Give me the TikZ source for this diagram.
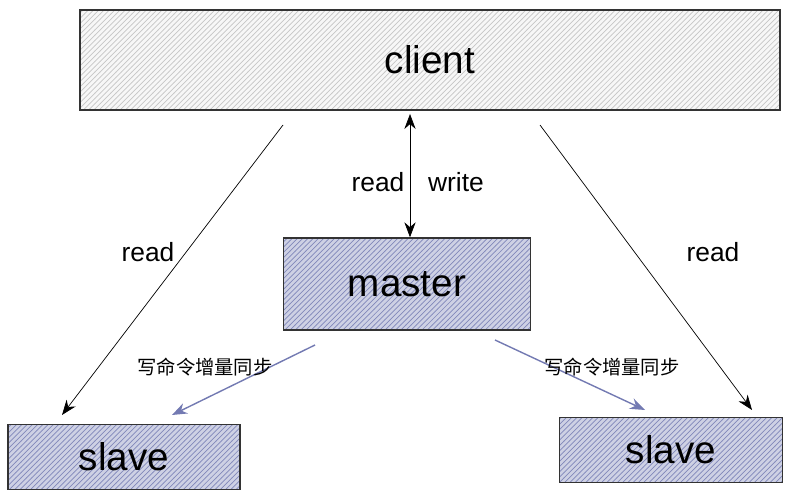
\documentclass[tikz,border=0pt]{standalone}
\usepackage{fontspec}
\setmainfont{Liberation Sans}
\newfontfamily\cjk{Noto Sans CJK SC}
\usetikzlibrary{arrows.meta,patterns,positioning}
\definecolor{hatchblue}{rgb}{0.45,0.48,0.70}
\tikzset{
  light box/.style={draw=black!80, thick, preaction={fill=gray!6},
    pattern=north east lines, pattern color=gray!45, font=\fontsize{22}{24}\selectfont},
  dark box/.style={draw=black!80, thick, preaction={fill=hatchblue!35},
    pattern=north east lines, pattern color=hatchblue!90, font=\fontsize{22}{24}\selectfont},
  flow/.style={-{Stealth[length=3mm]}, thin},
  sync/.style={-{Stealth[length=3mm]}, draw=hatchblue, thick},
  lab/.style={font=\fontsize{15}{17}\selectfont},
  cjklab/.style={font=\cjk\fontsize{11}{13}\selectfont}
}
\begin{document}
\begin{tikzpicture}[x=0.02cm,y=-0.02cm]
\useasboundingbox (0,0) rectangle (794,499);

\node (client) at (430,60) [light box, minimum width=14cm, minimum height=2cm]{client};
\node (master) at (407,284) [dark box, minimum width=4.94cm, minimum height=1.84cm]{master};
\node (slaveL) at (124,457) [dark box, minimum width=4.64cm, minimum height=1.3cm]{slave};
\node (slaveR) at (671,450) [dark box, minimum width=4.46cm, minimum height=1.3cm]{slave};

\coordinate (cL) at (283,125);
\coordinate (cR) at (540,125);
\coordinate (cM) at (410,114);
\coordinate (mL) at (315,345);
\coordinate (mR) at (495,340);

\draw [flow] (cL) -- (62,415) coordinate (eL);
\draw [flow] (cR) -- (752,410) coordinate (eR);
\draw [{Stealth[length=3mm]}-{Stealth[length=3mm]}, thin] (cM) -- (master.north -| cM);
\draw [sync] (mL) -- (172,415) coordinate (sL);
\draw [sync] (mR) -- (645,410) coordinate (sR);

\node (readL) at (148,252) [lab]{read};
\node (readR) at (713,252) [lab]{read};
\node (readM) at (378,182) [lab]{read};
\node (writeM) at (456,182) [lab]{write};
\node (syncL) at (205,367) [cjklab]{写命令增量同步};
\node (syncR) at (612,367) [cjklab]{写命令增量同步};

\end{tikzpicture}
\end{document}
